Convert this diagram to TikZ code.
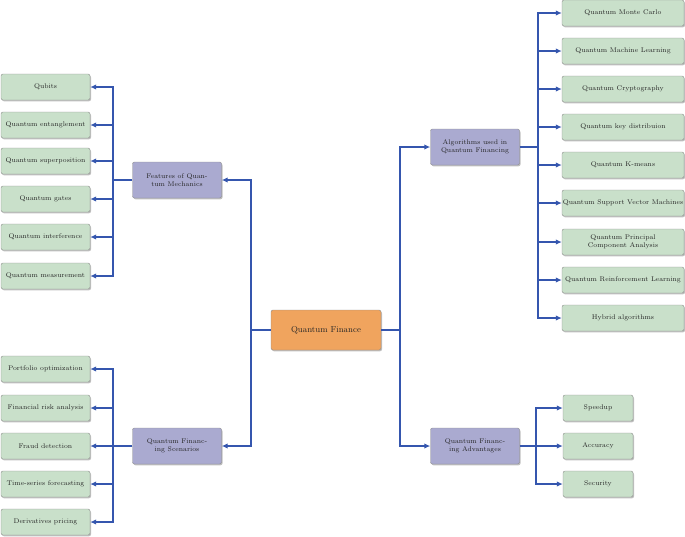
\documentclass[tikz,border=0pt]{standalone}
\usepackage{tikz}
\usetikzlibrary{arrows.meta,shadows}
\definecolor{leafgreen}{HTML}{C9E0CA}
\definecolor{catblue}{HTML}{AAAAD0}
\definecolor{rootorange}{HTML}{F0A45E}
\definecolor{linkblue}{HTML}{3556AE}
\begin{document}
\begin{tikzpicture}[x=1pt,y=-1pt,
  box/.style={draw=black!45, rounded corners=2pt, align=center, inner sep=0.5pt,
    text=black!85, font=\fontsize{6.8}{7.8}\selectfont,
    drop shadow={shadow xshift=1pt,shadow yshift=-1.3pt,opacity=0.5}},
  leaf/.style={box, fill=leafgreen, minimum height=26pt},
  cat/.style={box, fill=catblue, minimum width=89pt, minimum height=36pt},
  rootbox/.style={box, fill=rootorange, minimum width=110pt, minimum height=40pt,
    font=\fontsize{8.6}{10}\selectfont},
  link/.style={draw=linkblue, line width=1.8pt, -{Latex[length=6pt,width=5.5pt]}},
  trunk/.style={draw=linkblue, line width=1.8pt}]
\useasboundingbox (0,0) rectangle (685,536);
% root and categories
\node[rootbox] (root) at (326,330) {Quantum Finance};
\node[cat] (feat) at (177,180) {Features of Quan-\\tum Mechanics};
\node[cat] (scen) at (177,446) {Quantum Financ-\\ing Scenarios};
\node[cat] (algo) at (475,147) {Algorithms used in\\Quantum Financing};
\node[cat] (adv) at (475,446) {Quantum Financ-\\ing Advantages};
% leaves, left side
\node[leaf, minimum width=89pt] (qb) at (45.5,87) {Qubits};
\node[leaf, minimum width=89pt] (ent) at (45.5,125) {Quantum entanglement};
\node[leaf, minimum width=89pt] (sup) at (45.5,161) {Quantum superposition};
\node[leaf, minimum width=89pt] (gat) at (45.5,199) {Quantum gates};
\node[leaf, minimum width=89pt] (itf) at (45.5,237) {Quantum interference};
\node[leaf, minimum width=89pt] (msr) at (45.5,276) {Quantum measurement};
\node[leaf, minimum width=89pt] (por) at (45.5,369) {Portfolio optimization};
\node[leaf, minimum width=89pt] (risk) at (45.5,408) {Financial risk analysis};
\node[leaf, minimum width=89pt] (frd) at (45.5,446) {Fraud detection};
\node[leaf, minimum width=89pt] (tsf) at (45.5,484) {Time-series forecasting};
\node[leaf, minimum width=89pt] (der) at (45.5,522) {Derivatives pricing};
% leaves, right side
\node[leaf, minimum width=122pt] (mc) at (623,13) {Quantum Monte Carlo};
\node[leaf, minimum width=122pt] (ml) at (623,51) {Quantum Machine Learning};
\node[leaf, minimum width=122pt] (cry) at (623,89) {Quantum Cryptography};
\node[leaf, minimum width=122pt] (qkd) at (623,127) {Quantum key distribuion};
\node[leaf, minimum width=122pt] (km) at (623,165) {Quantum K-means};
\node[leaf, minimum width=122pt] (svm) at (623,203) {Quantum Support Vector Machines};
\node[leaf, minimum width=122pt] (pca) at (623,242) {Quantum Principal\\Component Analysis};
\node[leaf, minimum width=122pt] (rl) at (623,280) {Quantum Reinforcement Learning};
\node[leaf, minimum width=122pt] (hyb) at (623,318) {Hybrid algorithms};
\node[leaf, minimum width=70pt] (spd) at (598,408) {Speedup};
\node[leaf, minimum width=70pt] (acc) at (598,446) {Accuracy};
\node[leaf, minimum width=70pt] (sec) at (598,484) {Security};
% branch points
\coordinate (rl0) at (251,330);
\coordinate (rr0) at (400,330);
\coordinate (fl0) at (113,180);
\coordinate (sl0) at (113,446);
\coordinate (ar0) at (538,147);
\coordinate (dr0) at (536,446);
% connectors
\draw[trunk] (root.west) -- (rl0);
\draw[trunk] (root.east) -- (rr0);
\draw[link] (rl0) |- (feat.east);
\draw[link] (rl0) |- (scen.east);
\draw[link] (rr0) |- (algo.west);
\draw[link] (rr0) |- (adv.west);
\draw[trunk] (feat.west) -- (fl0);
\draw[trunk] (scen.west) -- (sl0);
\draw[trunk] (algo.east) -- (ar0);
\draw[trunk] (adv.east) -- (dr0);
\foreach \n in {qb,ent,sup,gat,itf,msr}
  \draw[link] (fl0) |- (\n.east);
\foreach \n in {por,risk,frd,tsf,der}
  \draw[link] (sl0) |- (\n.east);
\foreach \n in {mc,ml,cry,qkd,km,svm,pca,rl,hyb}
  \draw[link] (ar0) |- (\n.west);
\foreach \n in {spd,acc,sec}
  \draw[link] (dr0) |- (\n.west);
\end{tikzpicture}
\end{document}
